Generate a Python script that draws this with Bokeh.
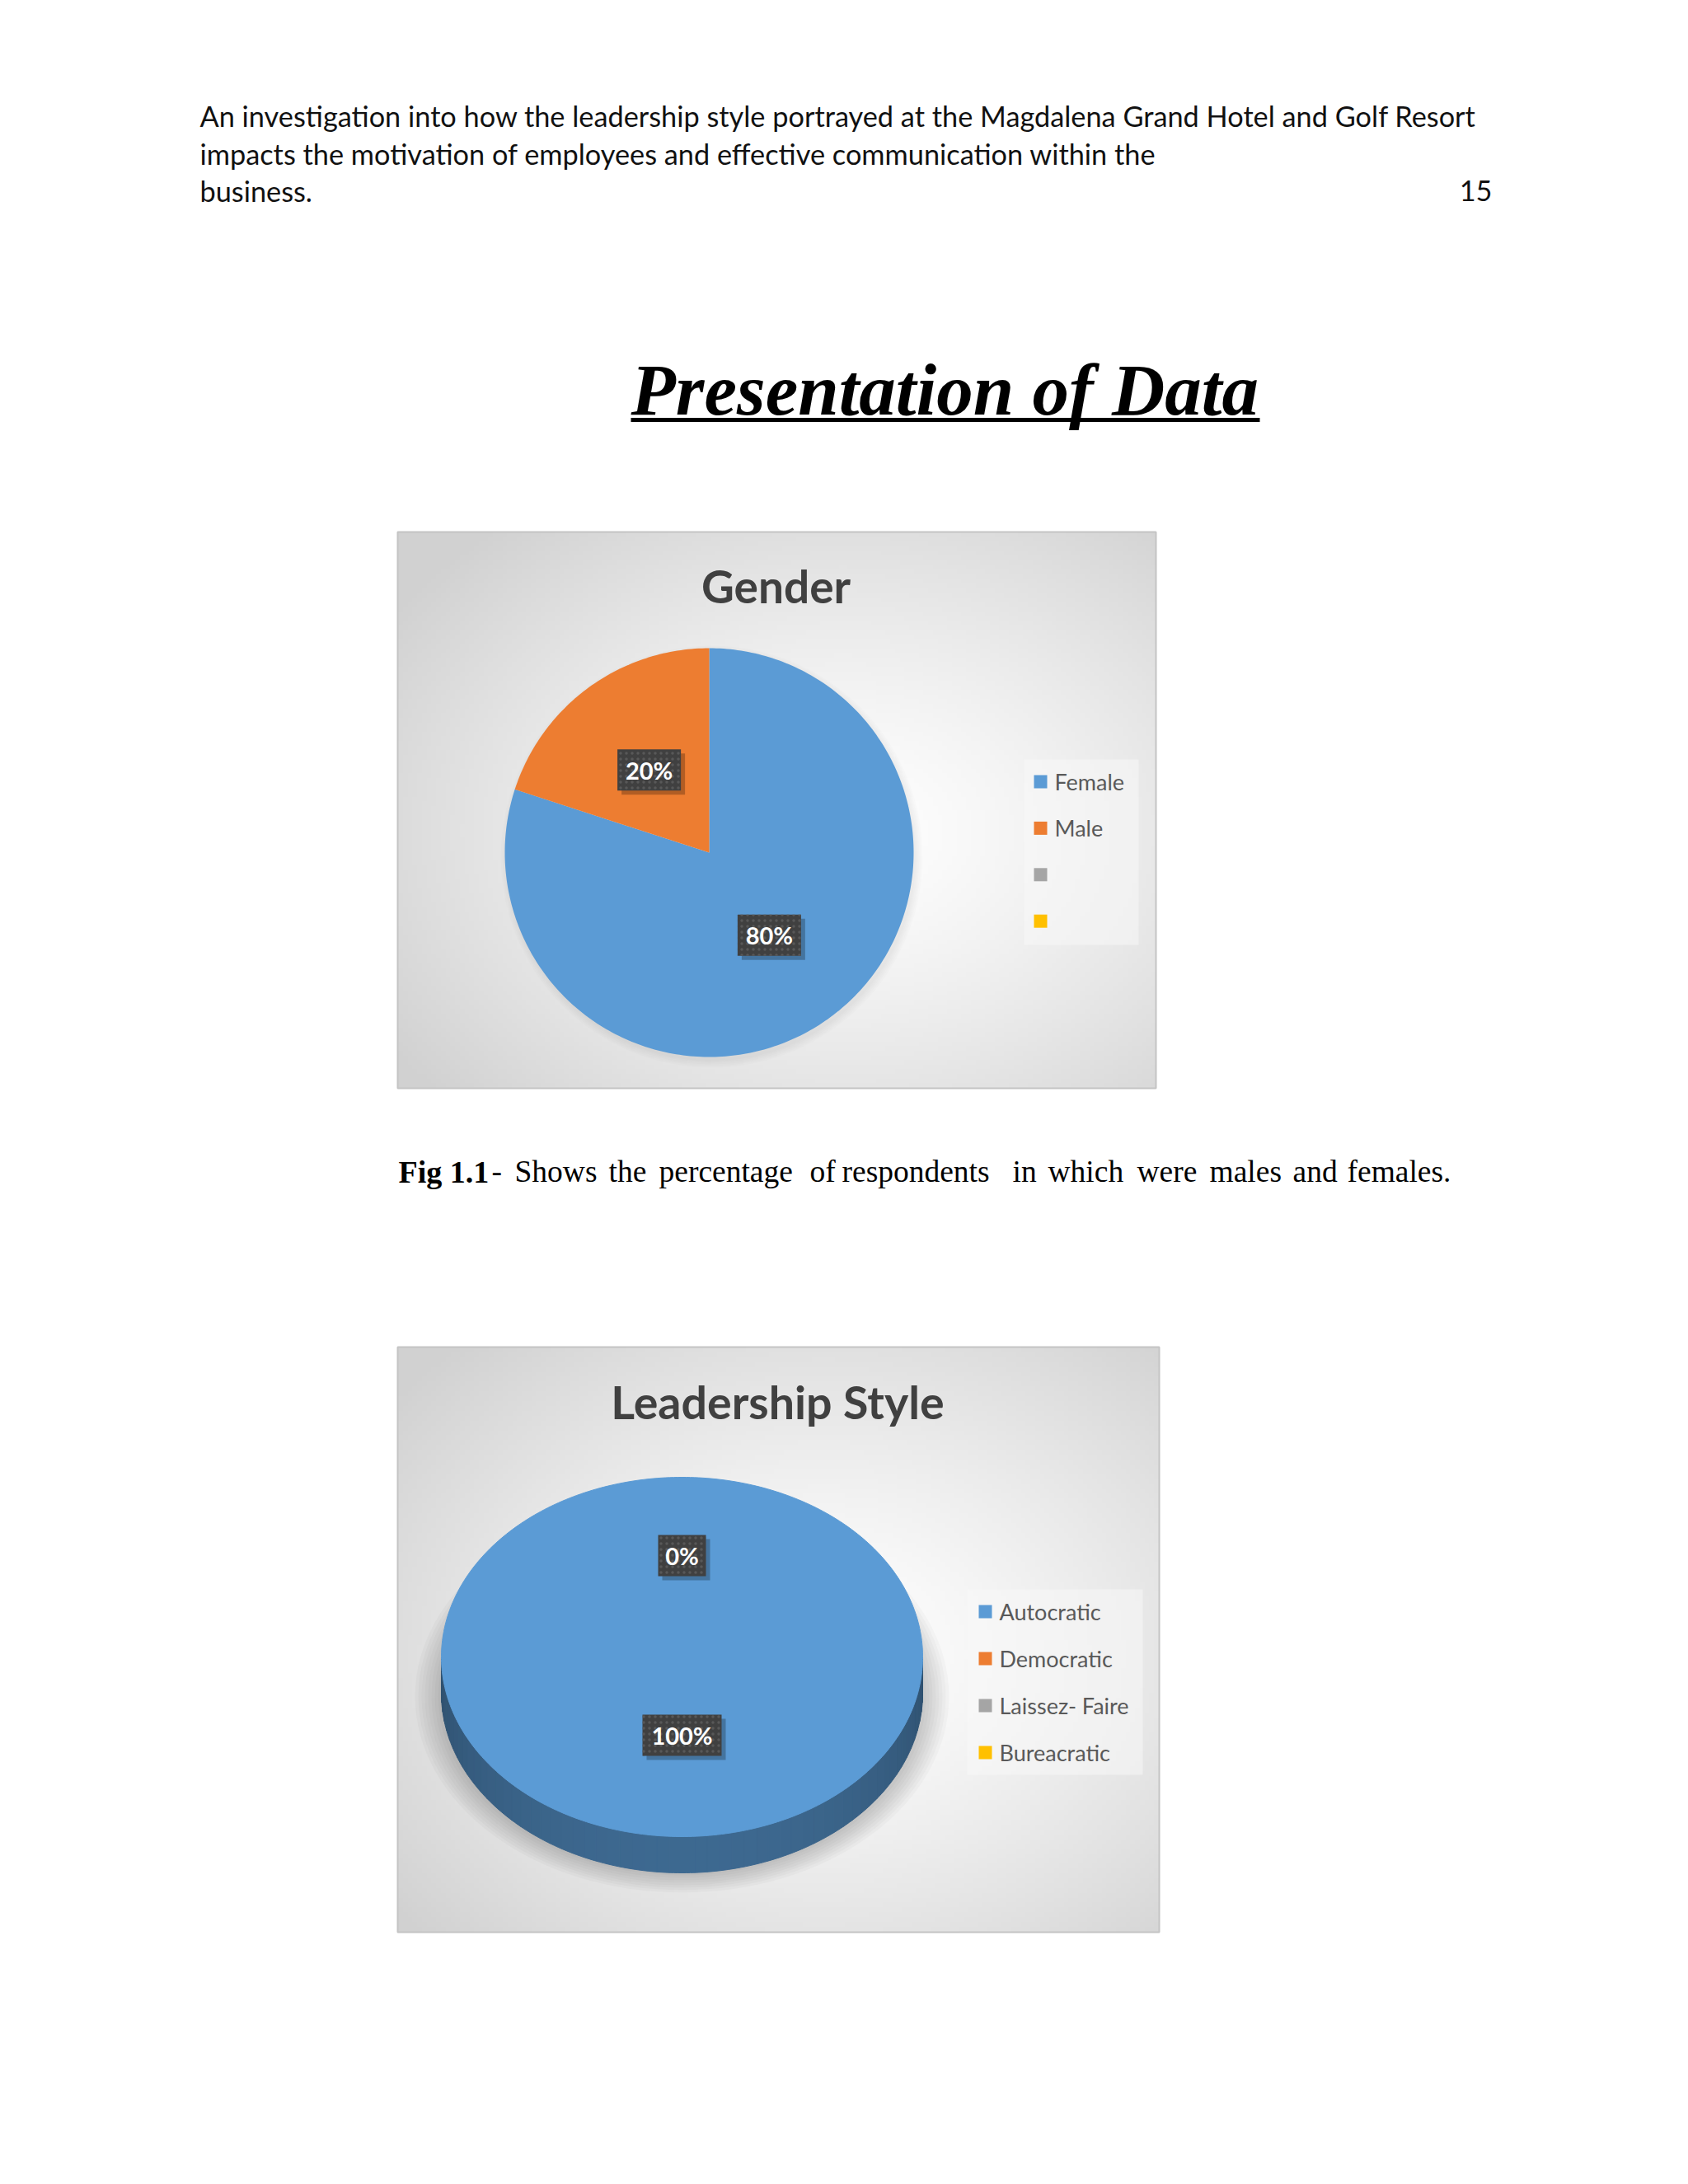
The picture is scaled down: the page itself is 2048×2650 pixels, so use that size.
import numpy as np
from bokeh.plotting import figure
from bokeh.models import Range1d
from bokeh.embed import file_html
from bokeh.resources import INLINE
from bokeh.core.properties import value

# ---------------- data ----------------
header_lines = [
    "An investigation into how the leadership style portrayed at the Magdalena Grand Hotel and Golf Resort",
    "impacts the motivation of employees and effective communication within the",
    "business.",
]
page_number = "15"
page_title = "Presentation of Data"

gender_title = "Gender"
gender_labels = ["Female", "Male", "", ""]
gender_values = [80, 20, None, None]

leader_title = "Leadership Style"
leader_labels = ["Autocratic", "Democratic", "Laissez- Faire", "Bureacratic"]
leader_values = [100, 0, 0, 0]

series_colors = ["#5B9BD5", "#ED7D31", "#A5A5A5", "#FFC000"]

caption_bold = "Fig 1.1"
caption_text = "- Shows the percentage of respondents in which were males and females."

# ---------------- page geometry ----------------
PW, PH = 2048, 2650
W, H = 2032, 2634


def Y(py):
    return PH - py


p = figure(width=W, height=H, x_range=Range1d(0, W), y_range=Range1d(PH - H, PH),
           output_backend="svg", toolbar_location=None, min_border=0,
           x_axis_location=None, y_axis_location=None,
           background_fill_color="#ffffff", border_fill_color="#ffffff",
           outline_line_color=None)
p.grid.visible = False

BODY = value("Lato")
SERIF = value("Liberation Serif")

# ---------------- header ----------------
for i, line in enumerate(header_lines):
    p.text(x=[242], y=[Y(140 + 45.5 * i)], text=[line], text_font=BODY, text_font_size="34.3px",
           text_color="#111111", text_baseline="middle", text_align="left")
p.text(x=[1810], y=[Y(231)], text=[page_number], text_font=BODY, text_font_size="34.3px",
       text_color="#111111", text_baseline="middle", text_align="right")

p.text(x=[765], y=[Y(472)], text=[page_title], text_font=SERIF, text_font_size="89px",
       text_font_style="bold italic", text_color="#000000", text_baseline="middle", text_align="left")
p.segment(x0=[765], y0=[Y(509)], x1=[1528], y1=[Y(509)], line_color="#000000", line_width=5)


# ---------------- helpers ----------------
def chart_box(x0, y0, x1, y1, ox=0.12, oy=0.05):
    w, h = x1 - x0, y1 - y0
    nx, ny = 160, 120
    xs = np.linspace(-1, 1, nx)
    ys = np.linspace(1, -1, ny)
    XX, YY = np.meshgrid(xs, ys)
    d = np.sqrt((XX - ox) ** 2 + (YY - oy) ** 2) / 1.45
    v = (255 - 46 * np.clip(d, 0, 1) ** 1.3).astype(np.uint8)
    img = np.empty((ny, nx), dtype=np.uint32)
    view = img.view(dtype=np.uint8).reshape((ny, nx, 4))
    view[:, :, 0] = v
    view[:, :, 1] = v
    view[:, :, 2] = v
    view[:, :, 3] = 255
    p.image_rgba(image=[img], x=x0, y=Y(y1), dw=w, dh=h)
    p.quad(left=[x0], right=[x1], bottom=[Y(y1)], top=[Y(y0)], fill_color=None,
           line_color="#c4c4c4", line_width=2)


def label_box(xs, ys, texts):
    widths = [20 + 19 * len(t) for t in texts]
    p.rect(x=[x + 5 for x in xs], y=[y - 5 for y in ys], width=widths, height=50,
           fill_color="#000000", fill_alpha=0.25, line_color=None)
    p.rect(x=xs, y=ys, width=widths, height=50, fill_color="#404040", line_color=None,
           hatch_pattern=".", hatch_color="#585858", hatch_scale=7, hatch_weight=1.0)
    p.text(x=xs, y=ys, text=texts, text_font=BODY, text_font_style="bold", text_font_size="29px",
           text_color="#ffffff", text_align="center", text_baseline="middle")


def legend(x_marker, y_first, step, labels, box):
    bx0, by0, bx1, by1 = box
    p.quad(left=[bx0], right=[bx1], bottom=[Y(by1)], top=[Y(by0)], fill_color="#f7f7f7",
           fill_alpha=0.55, line_color=None)
    ys = [Y(y_first + step * i) for i in range(len(labels))]
    p.scatter(x=[x_marker] * len(labels), y=ys, marker="square", size=16,
              fill_color=series_colors[:len(labels)], line_color=None)
    p.text(x=[x_marker + 17] * len(labels), y=ys, text=labels, text_font=BODY, text_font_size="27px",
           text_color="#595959", text_align="left", text_baseline="middle")


# ---------------- Gender chart ----------------
chart_box(482, 645, 1402, 1320, ox=0.18, oy=0.08)
p.text(x=[941], y=[Y(710)], text=[gender_title], text_font=BODY, text_font_style="bold",
       text_font_size="55px", text_color="#404040", text_align="center", text_baseline="middle")

gcx, gcy, gr = 860, 1034, 248
for k in range(5):
    p.circle(x=[gcx + 3], y=[Y(gcy + 5)], radius=gr + 8 - 2 * k, fill_color="#000000",
             fill_alpha=0.012, line_color=None)

g_total = sum(v for v in gender_values if v is not None)
cum = 0.0
g_xs, g_ys, g_cols, lab_x, lab_y, lab_t = [], [], [], [], [], []
for v, c in zip(gender_values, series_colors):
    if v is None:
        continue
    f0 = cum / g_total
    cum += v
    f1 = cum / g_total
    t = np.linspace(2 * np.pi * f0, 2 * np.pi * f1, max(3, int(360 * (f1 - f0)) + 2))
    g_xs.append([gcx] + list(gcx + gr * np.sin(t)))
    g_ys.append([Y(gcy)] + list(Y(gcy) + gr * np.cos(t)))
    g_cols.append(c)
    tm = np.pi * (f0 + f1)
    lab_x.append(gcx + 0.5 * gr * np.sin(tm))
    lab_y.append(Y(gcy) + 0.5 * gr * np.cos(tm))
    lab_t.append(f"{round(100 * v / g_total)}%")
p.patches(xs=g_xs, ys=g_ys, fill_color=g_cols, line_color=None)
label_box(lab_x, lab_y, lab_t)
legend(1262, 948, 56.4, gender_labels, (1242, 921, 1381, 1146))

# ---------------- caption (justified words) ----------------
p.text(x=[483], y=[Y(1421)], text=[caption_bold], text_font=SERIF, text_font_style="bold",
       text_font_size="38px", text_color="#000000", text_align="left", text_baseline="middle")
caption_words = caption_text.split()
word_x = [596, 624, 738, 799, 982, 1021, 1228, 1271, 1379, 1467, 1568, 1634]
p.text(x=word_x, y=[Y(1421)] * len(caption_words), text=caption_words, text_font=SERIF,
       text_font_size="37.5px", text_color="#000000", text_align="left", text_baseline="middle")

# ---------------- Leadership chart (3-D pie) ----------------
chart_box(482, 1634, 1406, 2344, ox=0.12, oy=0.05)
p.text(x=[943], y=[Y(1700)], text=[leader_title], text_font=BODY, text_font_style="bold",
       text_font_size="55.5px", text_color="#404040", text_align="center", text_baseline="middle")

lcx, lcy, rx, ry, depth = 827, 2010, 292, 218, 44

for k in range(9):
    p.ellipse(x=[lcx], y=[Y(lcy + depth + 4)], width=2 * (rx + 32 - 4 * k), height=2 * (ry + 20 - 3 * k),
              fill_color="#000000", fill_alpha=0.022, line_color=None)


def shade(hexcol, f):
    r, g, b = int(hexcol[1:3], 16), int(hexcol[3:5], 16), int(hexcol[5:7], 16)
    return "#%02x%02x%02x" % (int(r * f), int(g * f), int(b * f))


l_total = sum(leader_values)
fr = []
cum = 0.0
for v in leader_values:
    f0 = cum / l_total
    cum += v
    fr.append((f0, cum / l_total))

s_xs, s_ys, s_cols = [], [], []
for (f0, f1), c in zip(fr, series_colors):
    a0 = max(2 * np.pi * f0, np.pi / 2)
    a1 = min(2 * np.pi * f1, 3 * np.pi / 2)
    if a1 <= a0:
        continue
    n = max(2, int((a1 - a0) / np.pi * 60))
    edges = np.linspace(a0, a1, n + 1)
    for e0, e1 in zip(edges[:-1], edges[1:]):
        tt = np.linspace(e0, e1, 4)
        top_x = list(lcx + rx * np.sin(tt))
        top_y = list(Y(lcy) + ry * np.cos(tt))
        s_xs.append(top_x + top_x[::-1])
        s_ys.append(top_y + [y - depth for y in top_y[::-1]])
        em = 0.5 * (e0 + e1)
        s_cols.append(shade(c, 0.52 + 0.16 * np.sin(em - np.pi / 2)))
p.patches(xs=s_xs, ys=s_ys, fill_color=s_cols, line_color=s_cols, line_width=1)

t_xs, t_ys, t_cols = [], [], []
lx, ly, lt = [], [], []
seen = set()
lab_cy = lcy - 14
for (f0, f1), c, v in zip(fr, series_colors, leader_values):
    if f1 > f0:
        t = np.linspace(2 * np.pi * f0, 2 * np.pi * f1, max(3, int(360 * (f1 - f0)) + 2))
        t_xs.append([lcx] + list(lcx + rx * np.sin(t)))
        t_ys.append([Y(lcy)] + list(Y(lcy) + ry * np.cos(t)))
        t_cols.append(c)
    tm = np.pi * (f0 + f1)
    pos = (round(lcx + 0.5 * rx * np.sin(tm)), round(Y(lab_cy) + 0.5 * ry * np.cos(tm)))
    if pos in seen:
        continue  # the 0% labels sit on top of each other
    seen.add(pos)
    lx.append(pos[0])
    ly.append(pos[1])
    lt.append(f"{round(100 * v / l_total)}%")
p.patches(xs=t_xs, ys=t_ys, fill_color=t_cols, line_color=t_cols, line_width=1)
label_box(lx, ly, lt)
legend(1195, 1955, 57, leader_labels, (1173, 1928, 1386, 2153))

open("out.html", "w").write(file_html(p, INLINE))
